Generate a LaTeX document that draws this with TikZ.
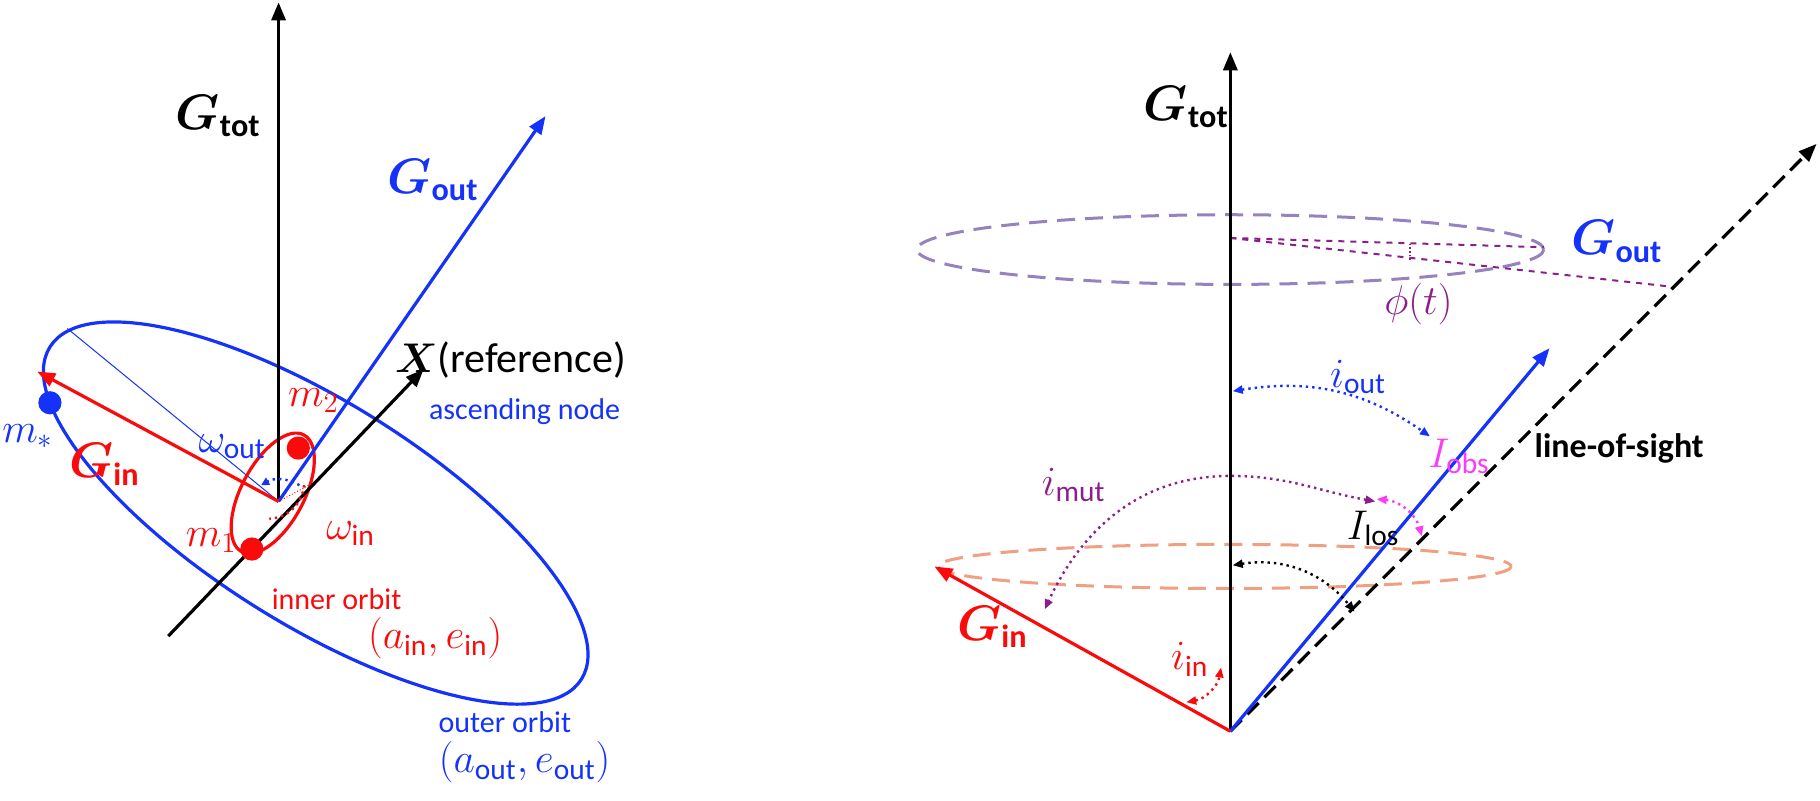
\documentclass[tikz,border=0pt]{standalone}
\usepackage{bm}
\usepackage{fontspec}
\setmainfont{Carlito}
\usetikzlibrary{arrows.meta}
\definecolor{bl}{RGB}{20,50,250}
\definecolor{rd}{RGB}{250,10,10}
\definecolor{pu}{RGB}{140,30,140}
\definecolor{pud}{RGB}{150,130,190}
\definecolor{orn}{RGB}{240,160,130}
\definecolor{mag}{RGB}{250,60,250}
\begin{document}
\begin{tikzpicture}[x=0.58pt,y=-0.58pt,
  vec/.style={line width=1.6pt,-{Triangle[length=9pt,width=7pt]}},
  dotarc/.style={line width=1.2pt,dotted,{Triangle[length=5pt,width=4pt]}-{Triangle[length=5pt,width=4pt]}},
  big/.style={font=\fontsize{23}{26}\selectfont},
  med/.style={font=\fontsize{21}{24}\selectfont},
  sml/.style={font=\fontsize{15}{18}\selectfont}]
\useasboundingbox (0,0) rectangle (1568,690);
% ---------- left ----------
\coordinate (O) at (240,432);
\coordinate (Ttop) at (240,2);
\coordinate (Gout) at (470,100);
\coordinate (Xs) at (145,548);
\coordinate (Xe) at (365,318);
\coordinate (Gin) at (32,320);
\coordinate (Ms) at (43,347);
\draw[bl,line width=1.6pt,rotate around={-32:(272,442)}] (272,442) ellipse (270 and 96);
\draw[bl,line width=0.5pt] (58,283) -- (O);
\draw[rd,line width=1.6pt,rotate around={62:(235,425)}] (235,425) ellipse (57 and 27);
\draw[vec] (O) -- (Ttop);
\draw[vec,bl] (O) -- (Gout);
\draw[vec] (Xs) -- (Xe);
\draw[vec,rd] (O) -- (Gin);
\draw[bl,line width=1.2pt,dotted,-{Triangle[length=4pt,width=4pt]}] (258,418) to[bend right=30] (225,418);
\draw[rd,line width=0.5pt,densely dotted] (O) -- (268,417);
\draw[rd,line width=1.2pt,dotted] (262,418) to[bend left=40] (232,447);
\fill[rd] (257,386) circle (10);
\fill[rd] (217,473) circle (10);
\fill[bl] (Ms) circle (10);
\node[big] (tgt) at (188,100) {$\bm{G}_{\mathbf{tot}}$};
\node[big,bl] (tgo) at (373,155) {$\bm{G}_{\mathbf{out}}$};
\node[big,rd] (tgi) at (90,400) {$\bm{G}_{\mathbf{in}}$};
\node[med] (tx) at (440,310) {$\bm{X}$(reference)};
\node[sml,bl] (tan) at (452,355) {ascending node};
\node[med,rd] (tm2) at (270,345) {$m_2$};
\node[med,rd] (tm1) at (182,466) {$m_1$};
\node[med,bl] (tms) at (24,376) {$m_*$};
\node[med,bl] (two) at (200,385) {$\omega_{\mathrm{out}}$};
\node[med,rd] (twi) at (302,460) {$\omega_{\mathrm{in}}$};
\node[sml,rd] (tio) at (290,516) {inner orbit};
\node[med,rd] (tae) at (375,550) {$(a_{\mathrm{in}},e_{\mathrm{in}})$};
\node[sml,bl] (too) at (435,622) {outer orbit};
\node[med,bl] (taeo) at (452,657) {$(a_{\mathrm{out}},e_{\mathrm{out}})$};
% ---------- right ----------
\coordinate (P) at (1060,630);
\coordinate (Ptop) at (1060,45);
\coordinate (PGo) at (1335,300);
\coordinate (Plos) at (1565,124);
\coordinate (PGi) at (805,488);
\draw[pud,dashed,line width=1.5pt,dash pattern=on 9pt off 5pt] (1060,215) ellipse (270 and 30);
\draw[orn,dashed,line width=1.5pt,dash pattern=on 9pt off 5pt] (1055,488) ellipse (247 and 19);
\draw[pu,line width=1pt,dashed] (1060,205) -- (1330,213);
\draw[pu,line width=1pt,dashed] (1060,205) -- (1440,247);
\draw[pu,line width=0.8pt,densely dotted] (1215,210) -- (1215,225);
\draw[vec] (P) -- (Ptop);
\draw[line width=1.6pt,dashed,dash pattern=on 8pt off 4pt,-{Triangle[length=9pt,width=7pt]}] (P) -- (Plos);
\draw[vec,bl] (P) -- (PGo);
\draw[vec,rd] (P) -- (PGi);
\draw[dotarc,bl] (1062,337) to[bend left=22] (1232,376);
\draw[dotarc,mag] (1186,430) to[bend left=35] (1225,462);
\draw[dotarc] (1062,487) to[bend left=30] (1167,527);
\draw[dotarc,pu] (1185,432) to[out=170,in=0] (1060,410) to[out=180,in=65] (900,525);
\draw[dotarc,rd] (1022,605) to[bend right=35] (1052,575);
\node[big] (rgt) at (1022,92) {$\bm{G}_{\mathbf{tot}}$};
\node[big,bl] (rgo) at (1393,208) {$\bm{G}_{\mathbf{out}}$};
\node[big,rd] (rgi) at (855,540) {$\bm{G}_{\mathbf{in}}$};
\node[font=\fontsize{17}{20}\selectfont\bfseries] (rlos) at (1395,386) {line-of-sight};
\node[med,pu] (rphi) at (1222,262) {$\phi(t)$};
\node[med,bl] (rio) at (1170,325) {$i_{\mathrm{out}}$};
\node[med,mag] (rob) at (1257,393) {$I_{\mathrm{obs}}$};
\node[med] (rlo) at (1183,455) {$I_{\mathrm{los}}$};
\node[med,pu] (rmu) at (925,418) {$i_{\mathrm{mut}}$};
\node[med,rd] (rin) at (1025,568) {$i_{\mathrm{in}}$};
\end{tikzpicture}
\end{document}
